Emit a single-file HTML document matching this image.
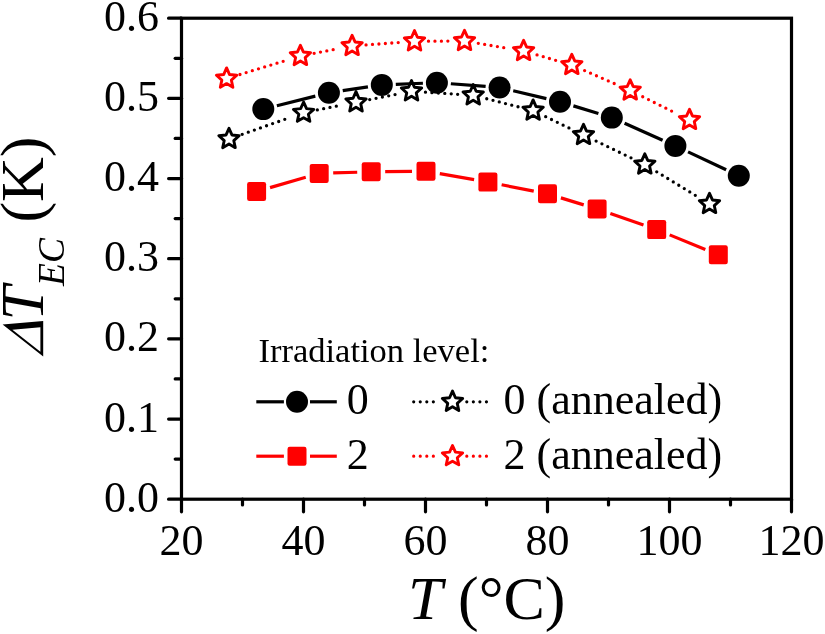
<!DOCTYPE html>
<html><head><meta charset="utf-8"><style>
html,body{margin:0;padding:0;background:#fff;}
body{width:825px;height:634px;overflow:hidden;}
svg{display:block;will-change:transform;}
text{font-family:"Liberation Serif",serif;fill:#000;}
.tk{font-size:44px;}
.lg{font-size:34.5px;}
.ti{font-size:62px;}
</style></head><body>
<svg width="825" height="634" viewBox="0 0 825 634">
<rect x="181.5" y="18.2" width="610.0" height="481.0" fill="none" stroke="#000" stroke-width="3.2"/>
<line x1="168.60" y1="499.20" x2="181.5" y2="499.20" stroke="#000" stroke-width="3.2" stroke-linecap="round"/>
<text x="159" y="511.80" text-anchor="end" class="tk">0.0</text>
<line x1="175.20" y1="459.12" x2="181.5" y2="459.12" stroke="#000" stroke-width="3.2" stroke-linecap="round"/>
<line x1="168.60" y1="419.03" x2="181.5" y2="419.03" stroke="#000" stroke-width="3.2" stroke-linecap="round"/>
<text x="159" y="431.63" text-anchor="end" class="tk">0.1</text>
<line x1="175.20" y1="378.95" x2="181.5" y2="378.95" stroke="#000" stroke-width="3.2" stroke-linecap="round"/>
<line x1="168.60" y1="338.87" x2="181.5" y2="338.87" stroke="#000" stroke-width="3.2" stroke-linecap="round"/>
<text x="159" y="351.47" text-anchor="end" class="tk">0.2</text>
<line x1="175.20" y1="298.78" x2="181.5" y2="298.78" stroke="#000" stroke-width="3.2" stroke-linecap="round"/>
<line x1="168.60" y1="258.70" x2="181.5" y2="258.70" stroke="#000" stroke-width="3.2" stroke-linecap="round"/>
<text x="159" y="271.30" text-anchor="end" class="tk">0.3</text>
<line x1="175.20" y1="218.62" x2="181.5" y2="218.62" stroke="#000" stroke-width="3.2" stroke-linecap="round"/>
<line x1="168.60" y1="178.53" x2="181.5" y2="178.53" stroke="#000" stroke-width="3.2" stroke-linecap="round"/>
<text x="159" y="191.13" text-anchor="end" class="tk">0.4</text>
<line x1="175.20" y1="138.45" x2="181.5" y2="138.45" stroke="#000" stroke-width="3.2" stroke-linecap="round"/>
<line x1="168.60" y1="98.37" x2="181.5" y2="98.37" stroke="#000" stroke-width="3.2" stroke-linecap="round"/>
<text x="159" y="110.97" text-anchor="end" class="tk">0.5</text>
<line x1="175.20" y1="58.28" x2="181.5" y2="58.28" stroke="#000" stroke-width="3.2" stroke-linecap="round"/>
<line x1="168.60" y1="18.20" x2="181.5" y2="18.20" stroke="#000" stroke-width="3.2" stroke-linecap="round"/>
<text x="159" y="30.80" text-anchor="end" class="tk">0.6</text>
<line x1="181.50" y1="499.2" x2="181.50" y2="511.80" stroke="#000" stroke-width="3.2" stroke-linecap="round"/>
<text x="181.50" y="555.4" text-anchor="middle" class="tk">20</text>
<line x1="242.50" y1="499.2" x2="242.50" y2="505.00" stroke="#000" stroke-width="3.2" stroke-linecap="round"/>
<line x1="303.50" y1="499.2" x2="303.50" y2="511.80" stroke="#000" stroke-width="3.2" stroke-linecap="round"/>
<text x="303.50" y="555.4" text-anchor="middle" class="tk">40</text>
<line x1="364.50" y1="499.2" x2="364.50" y2="505.00" stroke="#000" stroke-width="3.2" stroke-linecap="round"/>
<line x1="425.50" y1="499.2" x2="425.50" y2="511.80" stroke="#000" stroke-width="3.2" stroke-linecap="round"/>
<text x="425.50" y="555.4" text-anchor="middle" class="tk">60</text>
<line x1="486.50" y1="499.2" x2="486.50" y2="505.00" stroke="#000" stroke-width="3.2" stroke-linecap="round"/>
<line x1="547.50" y1="499.2" x2="547.50" y2="511.80" stroke="#000" stroke-width="3.2" stroke-linecap="round"/>
<text x="547.50" y="555.4" text-anchor="middle" class="tk">80</text>
<line x1="608.50" y1="499.2" x2="608.50" y2="505.00" stroke="#000" stroke-width="3.2" stroke-linecap="round"/>
<line x1="669.50" y1="499.2" x2="669.50" y2="511.80" stroke="#000" stroke-width="3.2" stroke-linecap="round"/>
<text x="669.50" y="555.4" text-anchor="middle" class="tk">100</text>
<line x1="730.50" y1="499.2" x2="730.50" y2="505.00" stroke="#000" stroke-width="3.2" stroke-linecap="round"/>
<line x1="791.50" y1="499.2" x2="791.50" y2="511.80" stroke="#000" stroke-width="3.2" stroke-linecap="round"/>
<text x="791.50" y="555.4" text-anchor="middle" class="tk">120</text>
<line x1="239.99" y1="74.50" x2="287.01" y2="60.10" stroke="#f00" stroke-width="3.3" stroke-linecap="round" stroke-dasharray="0 6.45"/>
<line x1="314.15" y1="53.34" x2="338.35" y2="48.66" stroke="#f00" stroke-width="3.3" stroke-linecap="round" stroke-dasharray="0 6.45"/>
<line x1="366.06" y1="44.95" x2="400.54" y2="42.35" stroke="#f00" stroke-width="3.3" stroke-linecap="round" stroke-dasharray="0 6.45"/>
<line x1="428.50" y1="41.22" x2="450.50" y2="41.08" stroke="#f00" stroke-width="3.3" stroke-linecap="round" stroke-dasharray="0 6.45"/>
<line x1="478.30" y1="43.34" x2="509.80" y2="48.66" stroke="#f00" stroke-width="3.3" stroke-linecap="round" stroke-dasharray="0 6.45"/>
<line x1="537.04" y1="54.91" x2="558.36" y2="61.09" stroke="#f00" stroke-width="3.3" stroke-linecap="round" stroke-dasharray="0 6.45"/>
<line x1="584.63" y1="70.60" x2="617.37" y2="84.90" stroke="#f00" stroke-width="3.3" stroke-linecap="round" stroke-dasharray="0 6.45"/>
<line x1="642.73" y1="96.74" x2="676.97" y2="113.76" stroke="#f00" stroke-width="3.3" stroke-linecap="round" stroke-dasharray="0 6.45"/>
<line x1="242.20" y1="134.35" x2="290.40" y2="117.35" stroke="#000" stroke-width="3.3" stroke-linecap="round" stroke-dasharray="0 6.45"/>
<line x1="317.33" y1="109.97" x2="342.27" y2="105.03" stroke="#000" stroke-width="3.3" stroke-linecap="round" stroke-dasharray="0 6.45"/>
<line x1="369.73" y1="99.58" x2="397.77" y2="94.02" stroke="#000" stroke-width="3.3" stroke-linecap="round" stroke-dasharray="0 6.45"/>
<line x1="425.47" y1="92.21" x2="459.23" y2="94.39" stroke="#000" stroke-width="3.3" stroke-linecap="round" stroke-dasharray="0 6.45"/>
<line x1="486.76" y1="98.76" x2="519.54" y2="107.14" stroke="#000" stroke-width="3.3" stroke-linecap="round" stroke-dasharray="0 6.45"/>
<line x1="545.70" y1="116.70" x2="570.90" y2="128.90" stroke="#000" stroke-width="3.3" stroke-linecap="round" stroke-dasharray="0 6.45"/>
<line x1="596.12" y1="141.07" x2="632.18" y2="158.43" stroke="#000" stroke-width="3.3" stroke-linecap="round" stroke-dasharray="0 6.45"/>
<line x1="656.75" y1="171.80" x2="697.55" y2="196.70" stroke="#000" stroke-width="3.3" stroke-linecap="round" stroke-dasharray="0 6.45"/>
<line x1="276.88" y1="105.70" x2="315.32" y2="96.10" stroke="#000" stroke-width="3.2"/>
<line x1="342.75" y1="90.66" x2="367.95" y2="86.94" stroke="#000" stroke-width="3.2"/>
<line x1="395.79" y1="84.34" x2="422.91" y2="83.26" stroke="#000" stroke-width="3.2"/>
<line x1="450.86" y1="83.77" x2="485.64" y2="86.43" stroke="#000" stroke-width="3.2"/>
<line x1="513.22" y1="90.73" x2="546.38" y2="98.57" stroke="#000" stroke-width="3.2"/>
<line x1="573.39" y1="105.88" x2="598.41" y2="113.52" stroke="#000" stroke-width="3.2"/>
<line x1="624.59" y1="123.29" x2="662.61" y2="140.21" stroke="#000" stroke-width="3.2"/>
<line x1="688.07" y1="151.86" x2="726.13" y2="169.74" stroke="#000" stroke-width="3.2"/>
<line x1="270.05" y1="187.61" x2="305.75" y2="177.29" stroke="#f00" stroke-width="3.2"/>
<line x1="333.19" y1="172.97" x2="357.21" y2="172.23" stroke="#f00" stroke-width="3.2"/>
<line x1="385.20" y1="171.65" x2="412.00" y2="171.35" stroke="#f00" stroke-width="3.2"/>
<line x1="439.79" y1="173.63" x2="474.11" y2="179.67" stroke="#f00" stroke-width="3.2"/>
<line x1="501.64" y1="184.80" x2="533.76" y2="191.10" stroke="#f00" stroke-width="3.2"/>
<line x1="560.89" y1="197.90" x2="583.71" y2="204.90" stroke="#f00" stroke-width="3.2"/>
<line x1="610.33" y1="213.57" x2="643.47" y2="225.03" stroke="#f00" stroke-width="3.2"/>
<line x1="669.67" y1="234.88" x2="705.33" y2="249.42" stroke="#f00" stroke-width="3.2"/>
<circle cx="263.3" cy="109.1" r="11" fill="#000"/>
<circle cx="328.9" cy="92.7" r="11" fill="#000"/>
<circle cx="381.8" cy="84.9" r="11" fill="#000"/>
<circle cx="436.9" cy="82.7" r="11" fill="#000"/>
<circle cx="499.6" cy="87.5" r="11" fill="#000"/>
<circle cx="560" cy="101.8" r="11" fill="#000"/>
<circle cx="611.8" cy="117.6" r="11" fill="#000"/>
<circle cx="675.4" cy="145.9" r="11" fill="#000"/>
<circle cx="738.8" cy="175.7" r="11" fill="#000"/>
<rect x="247.10" y="182.00" width="19" height="19" rx="2.2" fill="#f00"/>
<rect x="309.70" y="163.90" width="19" height="19" rx="2.2" fill="#f00"/>
<rect x="361.70" y="162.30" width="19" height="19" rx="2.2" fill="#f00"/>
<rect x="416.50" y="161.70" width="19" height="19" rx="2.2" fill="#f00"/>
<rect x="478.40" y="172.60" width="19" height="19" rx="2.2" fill="#f00"/>
<rect x="538.00" y="184.30" width="19" height="19" rx="2.2" fill="#f00"/>
<rect x="587.60" y="199.50" width="19" height="19" rx="2.2" fill="#f00"/>
<rect x="647.20" y="220.10" width="19" height="19" rx="2.2" fill="#f00"/>
<rect x="708.80" y="245.20" width="19" height="19" rx="2.2" fill="#f00"/>
<polygon points="229.00,128.30 231.94,134.95 239.18,135.69 233.76,140.55 235.29,147.66 229.00,144.00 222.71,147.66 224.24,140.55 218.82,135.69 226.06,134.95" fill="#fff" stroke="#000" stroke-width="2.9" stroke-linejoin="round"/>
<polygon points="303.60,102.00 306.54,108.65 313.78,109.39 308.36,114.25 309.89,121.36 303.60,117.70 297.31,121.36 298.84,114.25 293.42,109.39 300.66,108.65" fill="#fff" stroke="#000" stroke-width="2.9" stroke-linejoin="round"/>
<polygon points="356.00,91.60 358.94,98.25 366.18,98.99 360.76,103.85 362.29,110.96 356.00,107.30 349.71,110.96 351.24,103.85 345.82,98.99 353.06,98.25" fill="#fff" stroke="#000" stroke-width="2.9" stroke-linejoin="round"/>
<polygon points="411.50,80.60 414.44,87.25 421.68,87.99 416.26,92.85 417.79,99.96 411.50,96.30 405.21,99.96 406.74,92.85 401.32,87.99 408.56,87.25" fill="#fff" stroke="#000" stroke-width="2.9" stroke-linejoin="round"/>
<polygon points="473.20,84.60 476.14,91.25 483.38,91.99 477.96,96.85 479.49,103.96 473.20,100.30 466.91,103.96 468.44,96.85 463.02,91.99 470.26,91.25" fill="#fff" stroke="#000" stroke-width="2.9" stroke-linejoin="round"/>
<polygon points="533.10,99.90 536.04,106.55 543.28,107.29 537.86,112.15 539.39,119.26 533.10,115.60 526.81,119.26 528.34,112.15 522.92,107.29 530.16,106.55" fill="#fff" stroke="#000" stroke-width="2.9" stroke-linejoin="round"/>
<polygon points="583.50,124.30 586.44,130.95 593.68,131.69 588.26,136.55 589.79,143.66 583.50,140.00 577.21,143.66 578.74,136.55 573.32,131.69 580.56,130.95" fill="#fff" stroke="#000" stroke-width="2.9" stroke-linejoin="round"/>
<polygon points="644.80,153.80 647.74,160.45 654.98,161.19 649.56,166.05 651.09,173.16 644.80,169.50 638.51,173.16 640.04,166.05 634.62,161.19 641.86,160.45" fill="#fff" stroke="#000" stroke-width="2.9" stroke-linejoin="round"/>
<polygon points="709.50,193.30 712.44,199.95 719.68,200.69 714.26,205.55 715.79,212.66 709.50,209.00 703.21,212.66 704.74,205.55 699.32,200.69 706.56,199.95" fill="#fff" stroke="#000" stroke-width="2.9" stroke-linejoin="round"/>
<polygon points="226.60,67.90 229.54,74.55 236.78,75.29 231.36,80.15 232.89,87.26 226.60,83.60 220.31,87.26 221.84,80.15 216.42,75.29 223.66,74.55" fill="#fff" stroke="#f00" stroke-width="2.9" stroke-linejoin="round"/>
<polygon points="300.40,45.30 303.34,51.95 310.58,52.69 305.16,57.55 306.69,64.66 300.40,61.00 294.11,64.66 295.64,57.55 290.22,52.69 297.46,51.95" fill="#fff" stroke="#f00" stroke-width="2.9" stroke-linejoin="round"/>
<polygon points="352.10,35.30 355.04,41.95 362.28,42.69 356.86,47.55 358.39,54.66 352.10,51.00 345.81,54.66 347.34,47.55 341.92,42.69 349.16,41.95" fill="#fff" stroke="#f00" stroke-width="2.9" stroke-linejoin="round"/>
<polygon points="414.50,30.60 417.44,37.25 424.68,37.99 419.26,42.85 420.79,49.96 414.50,46.30 408.21,49.96 409.74,42.85 404.32,37.99 411.56,37.25" fill="#fff" stroke="#f00" stroke-width="2.9" stroke-linejoin="round"/>
<polygon points="464.50,30.30 467.44,36.95 474.68,37.69 469.26,42.55 470.79,49.66 464.50,46.00 458.21,49.66 459.74,42.55 454.32,37.69 461.56,36.95" fill="#fff" stroke="#f00" stroke-width="2.9" stroke-linejoin="round"/>
<polygon points="523.60,40.30 526.54,46.95 533.78,47.69 528.36,52.55 529.89,59.66 523.60,56.00 517.31,59.66 518.84,52.55 513.42,47.69 520.66,46.95" fill="#fff" stroke="#f00" stroke-width="2.9" stroke-linejoin="round"/>
<polygon points="571.80,54.30 574.74,60.95 581.98,61.69 576.56,66.55 578.09,73.66 571.80,70.00 565.51,73.66 567.04,66.55 561.62,61.69 568.86,60.95" fill="#fff" stroke="#f00" stroke-width="2.9" stroke-linejoin="round"/>
<polygon points="630.20,79.80 633.14,86.45 640.38,87.19 634.96,92.05 636.49,99.16 630.20,95.50 623.91,99.16 625.44,92.05 620.02,87.19 627.26,86.45" fill="#fff" stroke="#f00" stroke-width="2.9" stroke-linejoin="round"/>
<polygon points="689.50,109.30 692.44,115.95 699.68,116.69 694.26,121.55 695.79,128.66 689.50,125.00 683.21,128.66 684.74,121.55 679.32,116.69 686.56,115.95" fill="#fff" stroke="#f00" stroke-width="2.9" stroke-linejoin="round"/>
<text x="258.5" y="361.8" class="lg">Irradiation level:</text>
<line x1="256.3" y1="401.8" x2="283.9" y2="401.8" stroke="#000" stroke-width="3.2"/>
<line x1="310" y1="401.8" x2="336.8" y2="401.8" stroke="#000" stroke-width="3.2"/>
<circle cx="297" cy="401.8" r="11" fill="#000"/>
<line x1="256.3" y1="456.2" x2="283.9" y2="456.2" stroke="#f00" stroke-width="3.2"/>
<line x1="310" y1="456.2" x2="336.8" y2="456.2" stroke="#f00" stroke-width="3.2"/>
<rect x="287.50" y="446.70" width="19" height="19" rx="2.2" fill="#f00"/>
<line x1="413.7" y1="401.8" x2="433.4" y2="401.8" stroke="#000" stroke-width="3.2" stroke-linecap="round" stroke-dasharray="0 6.55"/>
<line x1="466.8" y1="401.8" x2="486.6" y2="401.8" stroke="#000" stroke-width="3.2" stroke-linecap="round" stroke-dasharray="0 6.55"/>
<polygon points="452.50,391.10 455.44,397.75 462.68,398.49 457.26,403.35 458.79,410.46 452.50,406.80 446.21,410.46 447.74,403.35 442.32,398.49 449.56,397.75" fill="#fff" stroke="#000" stroke-width="2.9" stroke-linejoin="round"/>
<line x1="413.7" y1="456.2" x2="433.4" y2="456.2" stroke="#f00" stroke-width="3.2" stroke-linecap="round" stroke-dasharray="0 6.55"/>
<line x1="466.8" y1="456.2" x2="486.6" y2="456.2" stroke="#f00" stroke-width="3.2" stroke-linecap="round" stroke-dasharray="0 6.55"/>
<polygon points="452.50,445.50 455.44,452.15 462.68,452.89 457.26,457.75 458.79,464.86 452.50,461.20 446.21,464.86 447.74,457.75 442.32,452.89 449.56,452.15" fill="#fff" stroke="#f00" stroke-width="2.9" stroke-linejoin="round"/>
<text x="346.7" y="414.1" class="tk">0</text>
<text x="346.7" y="468.5" class="tk">2</text>
<text x="503.5" y="414.1" class="tk">0 (annealed)</text>
<text x="503.5" y="468.5" class="tk">2 (annealed)</text>
<text x="408" y="619.2" class="ti"><tspan font-style="italic">T</tspan> (°C)</text>
<path fill="#000" fill-rule="evenodd" d="M2.6,324.6 L43.2,321.0 L43.2,356.6 Z M12.4,329.8 L40.4,351.8 L40.4,327.3 Z"/><g transform="translate(42.8,358) rotate(-90)"><text x="37.5" y="0" class="ti"><tspan font-style="italic">T</tspan><tspan font-style="italic" font-size="37.5" dy="21">EC</tspan><tspan dy="-21"> (K)</tspan></text></g>
</svg></body></html>
